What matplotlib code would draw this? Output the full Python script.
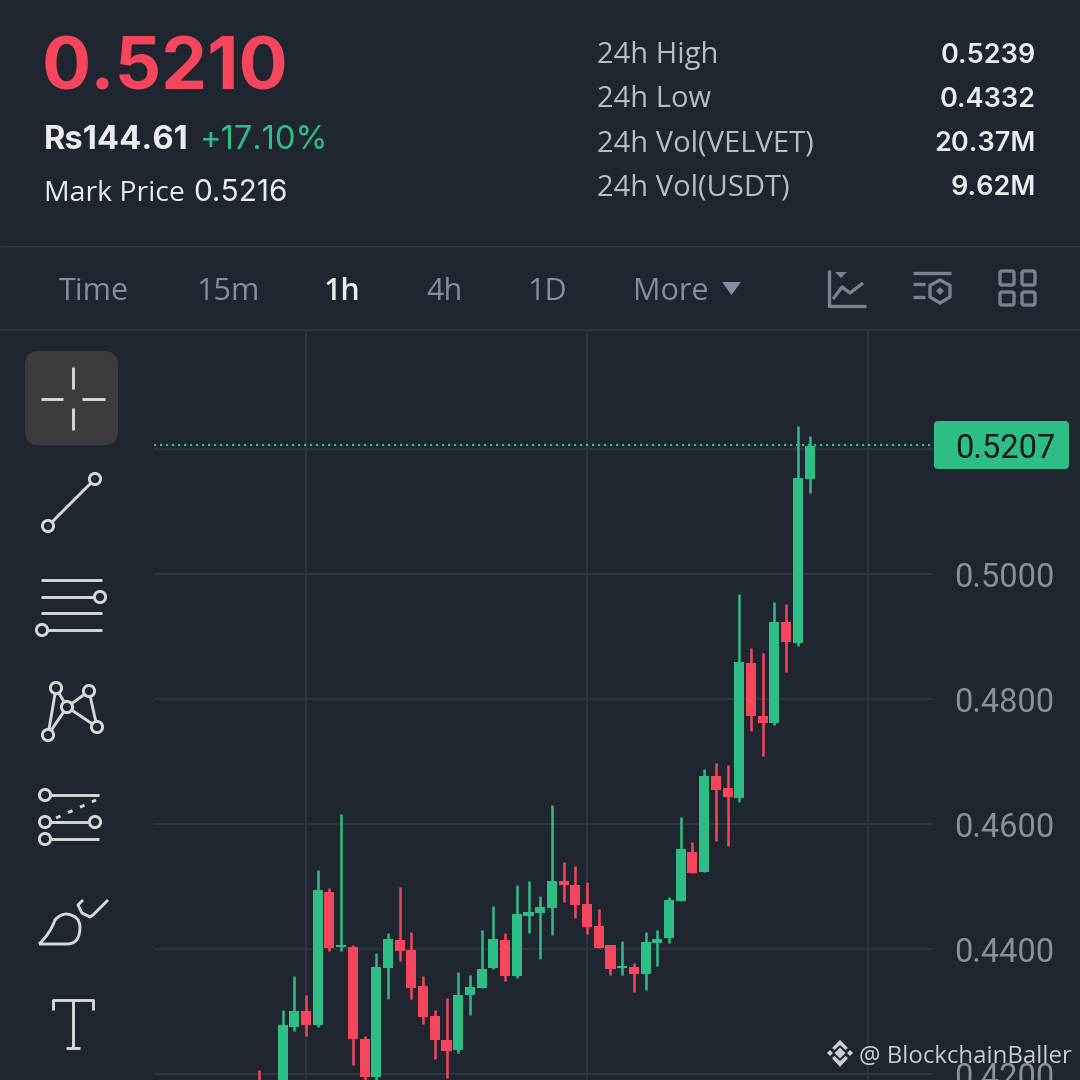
import matplotlib
matplotlib.use('Agg')
import matplotlib.pyplot as plt
from matplotlib.patches import Circle, FancyBboxPatch, Polygon, PathPatch
from matplotlib.path import Path

# candle data (slot 1 is below the visible area)
slots = [0] + list(range(2, 48))
opens = [.4183, .4167, .4276, .4301, .4279, .4492, .4404, .4404, .4257, .4196, .4370, .4415, .4399, .4341, .4293, .4255,
         .4239, .4327, .4338, .4370, .4415, .4357, .4453, .4458, .4466, .4509, .4503, .4473, .4437, .4407, .4370, .4372,
         .4361, .4410, .4418, .4477, .4556, .4524, .4677, .4658, .4642, .4858, .4773, .4762, .4924, .4890, .5153]
highs = [.4207, .4303, .4357, .4327, .4527, .4498, .4617, .4407, .4261, .4394, .4426, .4500, .4428, .4357, .4303, .4322,
         .4364, .4359, .4431, .4469, .4426, .4503, .4509, .4485, .4631, .4540, .4533, .4508, .4465, .4407, .4413, .4378,
         .4428, .4431, .4484, .4612, .4572, .4689, .4698, .4695, .4969, .4882, .4874, .4956, .4953, .5237, .5221]
lows = [.4151, .4159, .4269, .4261, .4276, .4397, .4397, .4215, .4188, .4188, .4321, .4381, .4321, .4281, .4225, .4194,
        .4234, .4295, .4338, .4369, .4349, .4354, .4426, .4385, .4423, .4476, .4450, .4425, .4402, .4359, .4359, .4332,
        .4335, .4373, .4410, .4477, .4522, .4524, .4573, .4565, .4636, .4749, .4709, .4759, .4844, .4885, .5130]
closes = [.4159, .4279, .4301, .4279, .4495, .4402, .4407, .4257, .4196, .4372, .4417, .4397, .4338, .4292, .4255, .4238,
          .4327, .4340, .4369, .4417, .4357, .4457, .4460, .4468, .4509, .4503, .4471, .4436, .4402, .4369, .4373, .4361,
          .4412, .4417, .4479, .4561, .4522, .4677, .4655, .4644, .4860, .4773, .4762, .4924, .4892, .5154, .5205]
last_price = 0.5207
price_ticks = [0.42, 0.44, 0.46, 0.48, 0.50, 0.52]
price_labels = ['0.4200', '0.4400', '0.4600', '0.4800', '0.5000', '']
day_slots = [4, 28, 52]

stats_names = ['24h High', '24h Low', '24h Vol(VELVET)', '24h Vol(USDT)']
stats_values = ['0.5239', '0.4332', '20.37M', '9.62M']
tabs = ['Time', '15m', '1h', '4h', '1D', 'More']
tab_x = [59, 196, 324, 426, 527, 633]

BG = '#1f2630'
GRID = '#2f353f'
RED = '#f6465d'
GREEN = '#2ebd85'
WHITE = '#eaecef'
GREY = '#848e9c'
SOFT = '#b7bdc6'
ICON = '#d5d7da'
ICON2 = '#7c828d'

plt.rcParams['font.family'] = ['Open Sans', 'DejaVu Sans']
fig = plt.figure(figsize=(10.8, 10.8), dpi=100, facecolor=BG)

# chart
ax = fig.add_axes([154 / 1080, 0, 779 / 1080, 750 / 1080], facecolor=BG)
ax.set_xlim(-8.98, 57.54)
ax.set_ylim(0.4191, 0.5391)
for s in ax.spines.values():
    s.set_visible(False)
ax.set_xticks(day_slots)
ax.set_xticklabels([])
ax.set_yticks(price_ticks)
ax.set_yticklabels(price_labels, family='Roboto', fontsize=23.5, color='#8b9098', va='center_baseline')
ax.yaxis.tick_right()
ax.tick_params(length=0, pad=15.5)
ax.grid(True, color=GRID, lw=1.4)
ax.set_axisbelow(True)

colors = [GREEN if c >= o else RED for o, c in zip(opens, closes)]
ax.vlines(slots, lows, highs, colors=colors, lw=1.8, zorder=3)
ax.bar(slots, [abs(c - o) for o, c in zip(opens, closes)], bottom=[min(o, c) for o, c in zip(opens, closes)],
       width=0.86, color=colors, zorder=4)
ax.axhline(last_price, color=GREEN, lw=1.6, ls=(0, (1, 1.7)), zorder=2)

# everything else is drawn in pixel coordinates on top
ov = fig.add_axes([0, 0, 1, 1])
ov.set_xlim(0, 1080)
ov.set_ylim(1080, 0)
ov.axis('off')


def line(xs, ys, c=ICON, w=2.1, **kw):
    ov.plot(xs, ys, color=c, lw=w, solid_capstyle='butt', solid_joinstyle='round', **kw)


def ring(x, y, r=5.6):
    ov.add_patch(Circle((x, y), r, fc=BG, ec=ICON, lw=2.1, zorder=5))


# header, the wide figures are closer to Inter
NUM = ['Inter', 'DejaVu Sans']
ov.text(42, 89, '0.5210', color=RED, fontsize=52.5, fontweight='bold', family=NUM)
ov.text(44, 149, 'Rs144.61', color=WHITE, fontsize=23.6, fontweight='bold', family=NUM)
ov.text(200, 149, '+17.10%', color=GREEN, fontsize=23.5, family=NUM)
ov.text(44, 201, 'Mark Price', color=WHITE, fontsize=20.5)
ov.text(193, 201, '0.5216', color=WHITE, fontsize=21.5, family=NUM)
for i in range(4):
    ov.text(597, 63 + 44 * i, stats_names[i], color=SOFT, fontsize=21)
    ov.text(1036, 63 + 44 * i, stats_values[i], color=WHITE, fontsize=19.5, fontweight='semibold', ha='right', family=NUM)

line([0, 1080], [245.5, 245.5], c=GRID, w=1)
line([0, 1080], [330, 330], c=GRID, w=1.6)

# tabs
for name, x in zip(tabs, tab_x):
    if name == '1h':
        ov.text(x, 300, name, color=WHITE, fontsize=22, fontweight='semibold')
    else:
        ov.text(x, 300, name, color=GREY, fontsize=22)
ov.add_patch(Polygon([(722, 282), (741, 282), (731.5, 295)], fc=GREY, ec='none'))

# top right icons
line([829, 829, 866], [270, 306, 306], c=ICON2, w=2.4)
ov.add_patch(Polygon([(835, 272), (847, 272), (841, 278)], fc=ICON2, ec='none'))
line([833, 842, 850, 863], [299, 287, 293, 283], c=ICON2, w=2.4)
line([913, 951], [273, 273], c=ICON2, w=2.4)
line([913, 925], [284, 284], c=ICON2, w=2.4)
line([913, 925], [297, 297], c=ICON2, w=2.4)
ov.add_patch(Polygon([(940, 280), (950, 285.5), (950, 297), (940, 303), (930, 297), (930, 285.5)],
                     fc='none', ec=ICON2, lw=2.4))
ov.add_patch(Polygon([(940, 287), (944, 291), (940, 295), (936, 291)], fc=ICON2, ec='none'))
for x0, x1 in [(1000, 1014), (1022, 1035)]:
    for y0, y1 in [(271, 285), (292, 305)]:
        ov.add_patch(FancyBboxPatch((x0 + 1, y0 + 1), x1 - x0 - 2, y1 - y0 - 2, boxstyle='round,pad=1,rounding_size=2',
                                    fc='none', ec=ICON2, lw=2.4))

# price box
py = 1080 - ax.transData.transform((0, last_price))[1]
ov.add_patch(FancyBboxPatch((936, py - 22), 131, 44, boxstyle='round,pad=2,rounding_size=4', fc=GREEN, ec='none'))
ov.text(1005, py + 1, '%.4f' % last_price, family='Roboto', color='#11191f', fontsize=23.5, ha='center', va='center_baseline')

# left toolbar
ov.add_patch(FancyBboxPatch((33, 359), 77, 78, boxstyle='round,pad=8,rounding_size=14', fc='#3c3c3e', ec='none'))
line([73, 73], [367, 389])
line([73, 73], [408, 430])
line([41, 63], [398.5, 398.5])
line([82, 105], [398.5, 398.5])

line([48, 95], [526, 479])
ring(48, 526)
ring(95, 479)

line([41, 102], [580, 580])
line([41, 100], [597, 597])
ring(100, 597)
line([41, 102], [613, 613])
line([42, 102], [630, 630])
ring(42, 630)

pts = [(56, 688), (89, 691), (67, 707), (97, 727), (48, 735)]
for a, b in [(0, 4), (0, 2), (2, 1), (1, 3), (2, 3), (2, 4)]:
    line([pts[a][0], pts[b][0]], [pts[a][1], pts[b][1]])
for p in pts:
    ring(p[0], p[1])

line([45, 99], [795, 795])
line([56, 96], [818, 800], ls=(0, (1.7, 2.8)))
line([45, 95], [822, 822])
line([45, 99], [839, 839])
ring(45, 795)
ring(45, 822)
ring(95, 822)
ring(45, 839)

brush = Path([(39, 944), (50, 934), (55, 920), (60, 914), (67, 914), (80, 916), (80, 927), (80, 944), (67, 944), (39, 944)],
             [Path.MOVETO, Path.CURVE3, Path.CURVE3, Path.CURVE3, Path.CURVE3, Path.CURVE3, Path.CURVE3, Path.CURVE3,
              Path.CURVE3, Path.LINETO])
ov.add_patch(PathPatch(brush, fc='none', ec=ICON, lw=2.1))
line([83, 78, 82, 90, 93, 108], [900, 905, 913, 917, 915, 900])

line([53, 53, 93, 93], [1010, 1000, 1000, 1010])
line([73, 73], [1000, 1048])
line([66, 80], [1048, 1048])

# watermark
WM = '#c9ccd0'
for d in [[(840, 1047.5), (845.5, 1053), (840, 1058.5), (834.5, 1053)],
          [(830, 1050), (833, 1053), (830, 1056), (827, 1053)],
          [(850, 1050), (853, 1053), (850, 1056), (847, 1053)],
          [(840, 1040), (848, 1048), (845.5, 1050), (840, 1045), (834.5, 1050), (832, 1048)],
          [(840, 1067), (848, 1058), (845.5, 1056), (840, 1061), (834.5, 1056), (832, 1058)]]:
    ov.add_patch(Polygon(d, fc=WM, ec='none'))
ov.text(859, 1063, '@ BlockchainBaller', color=WM, fontsize=17.3)

fig.savefig('out.png', dpi=100, facecolor=BG)
